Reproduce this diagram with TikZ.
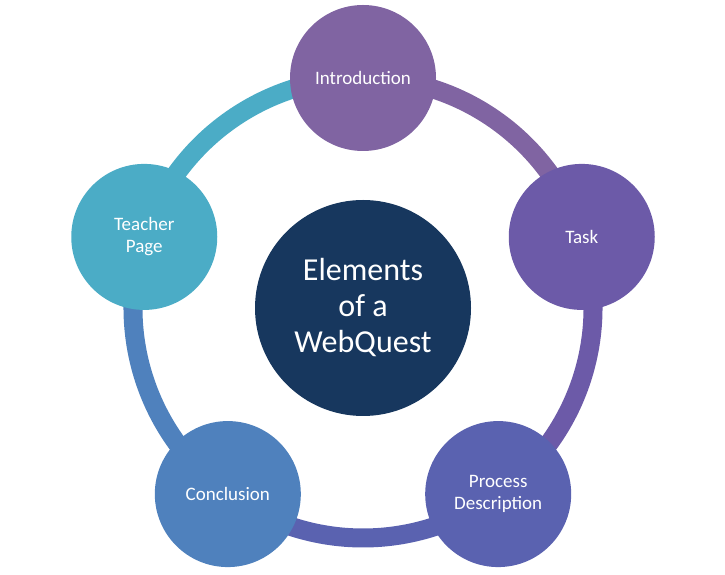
\documentclass[tikz,border=0pt]{standalone}
\usepackage{fontspec}
\setmainfont{Carlito}
\usetikzlibrary{calc}
\definecolor{cIntro}{RGB}{128,100,162}
\definecolor{cTask}{RGB}{108,90,168}
\definecolor{cProc}{RGB}{90,98,176}
\definecolor{cConc}{RGB}{79,129,189}
\definecolor{cTeach}{RGB}{75,172,198}
\definecolor{cCenter}{RGB}{23,55,94}
\begin{document}
\begin{tikzpicture}[
x=1pt,y=1pt,
element/.style={
	circle,
	minimum size=146pt,
	inner sep=0pt,
	text=white,
	align=center,
	font=\fontsize{19}{22}\selectfont
},
ring/.style={
	line width=19pt
}
]
\useasboundingbox (0,0) rectangle (725,575);
\coordinate (c) at (363,267);
% ring segments
\foreach \a/\b/\col in {90/18/cIntro,18/-54/cTask,-54/-126/cProc,-126/-198/cConc,-198/-270/cTeach}
\draw[ring,\col] ($(c)+(\a:230)$) arc[start angle=\a,end angle=\b,radius=230];
\node[element,fill=cIntro] (intro) at ($(c)+(90:230)$) {Introduction};
\node[element,fill=cTask] (task) at ($(c)+(18:230)$) {Task};
\node[element,fill=cProc] (proc) at ($(c)+(-54:230)$) {Process\\Description};
\node[element,fill=cConc] (conc) at ($(c)+(-126:230)$) {Conclusion};
\node[element,fill=cTeach] (teach) at ($(c)+(162:230)$) {Teacher\\Page};
\node[element,fill=cCenter,minimum size=216pt,
	font=\fontsize{32}{36}\selectfont] (center) at (c) {Elements\\of a\\WebQuest};
\end{tikzpicture}
\end{document}
